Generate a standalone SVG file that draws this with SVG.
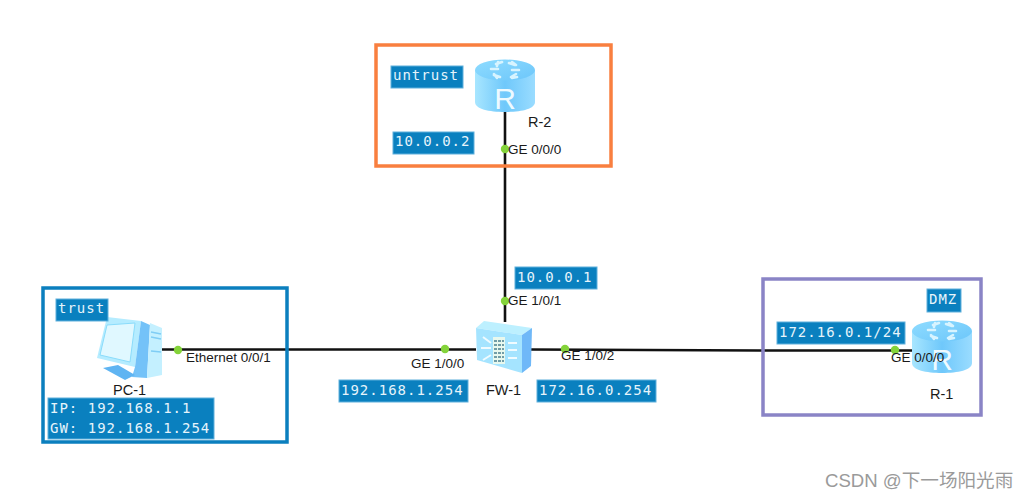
<svg xmlns="http://www.w3.org/2000/svg" width="1031" height="499" viewBox="0 0 1031 499">
<style>
.zone{fill:none;stroke-width:3.5}
.tag{fill:#0a80bf;stroke:#5fb0dc;stroke-width:1}
.tt{font-family:"DejaVu Sans Mono","Liberation Mono",monospace;font-size:14px;letter-spacing:1px;fill:#e6f4fb}
.lb{font-family:"Liberation Sans",Arial,sans-serif;font-size:13.5px;fill:#1a1a1a}
.nm{font-family:"Liberation Sans",Arial,sans-serif;font-size:14.5px;fill:#1a1a1a}
.dot{fill:#84d33a}
.link{stroke:#111;stroke-width:2.6;fill:none}
</style>
<defs>
<linearGradient id="rside" x1="0" x2="1" y1="0" y2="0"><stop offset="0" stop-color="#a8e6ff"/><stop offset=".5" stop-color="#6fc8fb"/><stop offset="1" stop-color="#9adcff"/></linearGradient>
<linearGradient id="rtop" x1="0" x2="1" y1="0" y2="1"><stop offset="0" stop-color="#8fdcff"/><stop offset="1" stop-color="#6cc6fa"/></linearGradient>
<g id="router">
<path d="M-30 -16V16C-30 23-16 26 0 26S30 23 30 16V-16Z" fill="url(#rside)"/>
<ellipse cx="0" cy="-16" rx="30" ry="10.5" fill="url(#rtop)"/>
<g stroke="#d8f4ff" stroke-width="2.6" fill="none" stroke-linecap="round">
<path d="M-3 -24L-9 -22M-7 -24L-8 -20M4 -23L10 -21M7 -24L11 -21M-5 -9L-11 -11M-8 -8L-11 -12M6 -9L11 -12M7 -8L12 -9M-14 -17H-7M14 -16H7"/>
</g>
<text x="0" y="23" text-anchor="middle" font-family="Liberation Sans,sans-serif" font-size="30" fill="#eefaff">R</text>
</g>
</defs>

<g id="connectors">
<path class="link" d="M505 111V322"/>
<path class="link" d="M162 349.5H476"/>
<path class="link" d="M530 349.5L760 350.5H912"/>
</g>

<g id="zone-untrust"><rect class="zone" x="376" y="45" width="235" height="121" stroke="#f97f3f"/></g>
<g id="zone-trust"><rect class="zone" x="43" y="288" width="244" height="154" stroke="#0b7fbe"/></g>
<g id="zone-dmz"><rect class="zone" x="763" y="279" width="218" height="136" stroke="#8a84c6"/></g>

<g id="R-2">
<use href="#router" x="505" y="86"/>
<text class="nm" x="528" y="127">R-2</text>
<rect class="tag" x="391" y="66" width="72" height="22"/><text class="tt" x="393" y="80">untrust</text>
<rect class="tag" x="393" y="132" width="81" height="22"/><text class="tt" x="395" y="146">10.0.0.2</text>
<circle class="dot" cx="505" cy="149" r="4.2"/>
<text class="lb" x="508" y="154">GE 0/0/0</text>
</g>

<g id="PC-1">
<path d="M107 317L141 321L135 367L97 358Z" fill="#b5ecff"/>
<path d="M107 325L135 323L130 362L100 355Z" fill="#e0f8ff" stroke="#8adcfb" stroke-width="1"/>
<path d="M141 321L150 325L147 378L132 377L135 367Z" fill="#74c2f8"/>
<path d="M150 323L162 328V375L147 378Z" fill="#c4f0ff"/>
<path d="M151 332L161 334M151 337L161 339M151 351L161 352" stroke="#7fcdf5" stroke-width="1.5"/>
<path d="M103 368L118 365L135 375L125 380Z" fill="#5fb4f2"/>
<text class="nm" x="113" y="395">PC-1</text>
<rect class="tag" x="56" y="299" width="52" height="22"/><text class="tt" x="58" y="313">trust</text>
<rect class="tag" x="48" y="398" width="166" height="41"/>
<text class="tt" x="50" y="413">IP: 192.168.1.1</text>
<text class="tt" x="50" y="433">GW: 192.168.1.254</text>
<circle class="dot" cx="178" cy="350" r="4.2"/>
<text class="lb" x="186" y="362">Ethernet 0/0/1</text>
</g>

<g id="FW-1">
<path d="M476 328L484 321L532 328L522 335Z" fill="#bdf0ff"/>
<path d="M476 328L522 335V373L477 360Z" fill="#a5e4ff"/>
<path d="M522 335L532 328L531 366L522 373Z" fill="#6fb8f8"/>
<rect x="493" y="337" width="12" height="27" fill="#e8f8ee"/>
<path d="M494 341H504M494 345H504M494 349H504M494 353H504M494 357H504M494 361H504" stroke="#4a7f90" stroke-width="1.6" stroke-dasharray="3 1"/>
<path d="M483 337L491 343M481 348H491M483 360L491 355M508 343H517M508 350H517M508 358H517" stroke="#f0fbff" stroke-width="2"/>
<text class="nm" x="486" y="395">FW-1</text>
<rect class="tag" x="515" y="267" width="82" height="22"/><text class="tt" x="517" y="282">10.0.0.1</text>
<circle class="dot" cx="505" cy="301" r="4.2"/>
<text class="lb" x="508" y="305">GE 1/0/1</text>
<circle class="dot" cx="445" cy="349" r="4.2"/>
<text class="lb" x="411" y="368">GE 1/0/0</text>
<rect class="tag" x="339" y="380" width="129" height="22"/><text class="tt" x="341" y="395">192.168.1.254</text>
<circle class="dot" cx="565" cy="349" r="4.2"/>
<text class="lb" x="561" y="360">GE 1/0/2</text>
<rect class="tag" x="537" y="380" width="119" height="22"/><text class="tt" x="539" y="395">172.16.0.254</text>
</g>

<g id="R-1">
<use href="#router" x="942" y="347"/>
<text class="nm" x="930" y="399">R-1</text>
<rect class="tag" x="927" y="289" width="34" height="23"/><text class="tt" x="929" y="304">DMZ</text>
<rect class="tag" x="777" y="322" width="128" height="22"/><text class="tt" x="779" y="337">172.16.0.1/24</text>
<circle class="dot" cx="895" cy="350" r="4.2"/>
<text class="lb" x="891" y="362">GE 0/0/0</text>
</g>

<text id="watermark" x="825" y="487" font-family="'Liberation Sans','Noto Sans CJK SC',sans-serif" font-size="18.6" fill="#9a9a9a">CSDN @下一场阳光雨</text>
</svg>
